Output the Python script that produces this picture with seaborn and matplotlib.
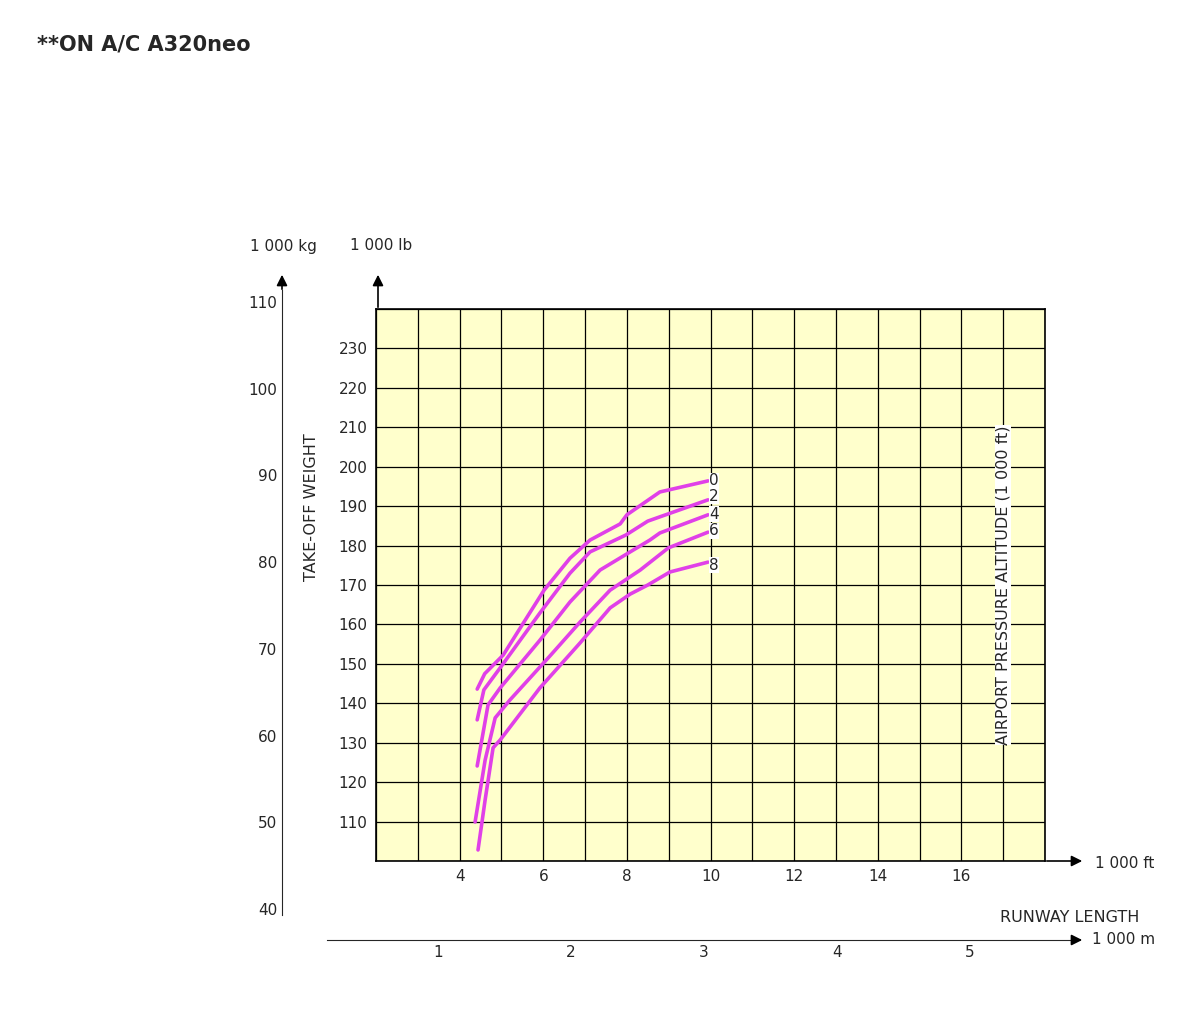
import numpy as np
import pandas as pd
import matplotlib
matplotlib.use("Agg")
import matplotlib.pyplot as plt
import seaborn as sns

sns.set_style("white")
plt.rcParams['font.family'] = ['DejaVu Sans']

altitudes = ["0", "2", "4", "6", "8"]
x0 = [4.42, 4.6, 5.04, 6.02, 6.64, 7.12, 7.84, 8.0, 8.79, 9.94]
y0 = [143.6, 147.5, 152.2, 168.7, 176.8, 181.4, 185.5, 187.8, 193.6, 196.4]
x2 = [4.42, 4.58, 4.97, 5.92, 6.64, 7.12, 7.98, 8.5, 9.94]
y2 = [135.8, 143.4, 149.0, 162.9, 173.0, 178.4, 182.7, 186.2, 191.6]
x4 = [4.42, 4.68, 4.97, 5.92, 6.64, 7.36, 8.08, 8.55, 8.79, 9.94]
y4 = [124.1, 139.6, 143.9, 156.0, 165.7, 173.8, 178.4, 181.4, 183.2, 187.8]
x6 = [4.37, 4.61, 4.85, 5.2, 6.16, 6.88, 7.6, 8.32, 8.99, 9.94]
y6 = [109.9, 125.6, 136.3, 140.8, 152.0, 160.6, 168.7, 173.8, 179.4, 183.4]
x8 = [4.44, 4.61, 4.8, 4.97, 5.92, 6.88, 7.6, 8.08, 8.5, 9.03, 9.94]
y8 = [102.8, 115.5, 128.7, 130.7, 143.9, 155.3, 164.2, 167.7, 170.0, 173.3, 175.8]
label_y = [196.5, 192.5, 188.0, 183.8, 175.0]

xs = [x0, x2, x4, x6, x8]
ys = [y0, y2, y4, y6, y8]
df = pd.concat([pd.DataFrame({"x": a, "y": b, "alt": n}) for a, b, n in zip(xs, ys, altitudes)])

W, H = 1180, 1016
fig = plt.figure(figsize=(W/100, H/100), dpi=100)

def rect(l, t, r, b):
    return [l/W, 1-b/H, (r-l)/W, (b-t)/H]

ax = fig.add_axes(rect(376, 309, 1045, 861))
ax.set_facecolor("#FFFFCC")
ax.set_xlim(2, 18)
ax.set_ylim(100, 240)
ax.set_xticks(range(4, 17, 2))
ax.set_xticks(range(2, 19), minor=True)
ax.set_yticks(range(110, 231, 10))
ax.set_yticks(range(100, 241, 10), minor=True)
ax.grid(which="both", color="black", linewidth=0.9)
ax.tick_params(which="both", length=0, labelsize=11, pad=6)
for s in ax.spines.values():
    s.set_linewidth(1.2); s.set_color("black")
sns.lineplot(data=df, x="x", y="y", units="alt", estimator=None, sort=False,
             color="#E040E8", linewidth=2.6, ax=ax, legend=False)
ax.set_xlabel(""); ax.set_ylabel("")
for n, ly in zip(altitudes, label_y):
    ax.text(10.08, ly, n, fontsize=11, ha="center", va="center",
            bbox=dict(facecolor="white", edgecolor="none", pad=0.3))
ax.text(17.0, 170, "AIRPORT PRESSURE ALTITUDE (1 000 ft)", rotation=90, fontsize=11.5,
        ha="center", va="center", bbox=dict(facecolor="white", edgecolor="none", pad=0.5))

# kg axis
axk = fig.add_axes(rect(282, 290, 283, 915))
axk.set_ylim(40 + (909-915)/8.67, 40 + (909-290)/8.67)
axk.set_yticks(range(40, 111, 10))
axk.set_xticks([])
for k in ["top", "right", "bottom"]:
    axk.spines[k].set_visible(False)
axk.tick_params(axis="y", direction="in", length=5, labelsize=11)
axk.patch.set_alpha(0)

# metre axis
axm = fig.add_axes(rect(327, 939, 1075, 940))
axm.set_xlim((327-305)/133, (1075-305)/133)
axm.set_xticks([1, 2, 3, 4, 5])
axm.set_xticks([0.5, 1.5, 2.5, 3.5, 4.5], minor=True)
axm.set_yticks([])
for k in ["top", "right", "left"]:
    axm.spines[k].set_visible(False)
axm.tick_params(axis="x", which="both", direction="in", length=5, labelsize=11)
axm.patch.set_alpha(0)

# overlay for arrows and labels
ov = fig.add_axes([0, 0, 1, 1])
ov.set_xlim(0, W); ov.set_ylim(H, 0); ov.axis("off")
ap = dict(arrowstyle="-|>", color="black", lw=1.2, mutation_scale=16)
ov.annotate("", xy=(282, 272), xytext=(282, 292), arrowprops=ap)
ov.annotate("", xy=(378, 272), xytext=(378, 310), arrowprops=ap)
ov.annotate("", xy=(1085, 861), xytext=(1044, 861), arrowprops=ap)
ov.annotate("", xy=(1085, 940), xytext=(1074, 940), arrowprops=ap)
ov.text(37, 44, "**ON A/C A320neo", fontsize=15, fontweight="bold", va="center", family="DejaVu Sans")
ov.text(283, 246, "1 000 kg", fontsize=11, ha="center", va="center")
ov.text(381, 246, "1 000 lb", fontsize=11, ha="center", va="center")
ov.text(312, 507, "TAKE-OFF WEIGHT", fontsize=11.5, rotation=90, ha="center", va="center")
ov.text(1095, 863, "1 000 ft", fontsize=11, ha="left", va="center")
ov.text(1070, 917, "RUNWAY LENGTH", fontsize=11.5, ha="center", va="center")
ov.text(1092, 940, "1 000 m", fontsize=11, ha="left", va="center")

fig.savefig("out.png", dpi=100)
